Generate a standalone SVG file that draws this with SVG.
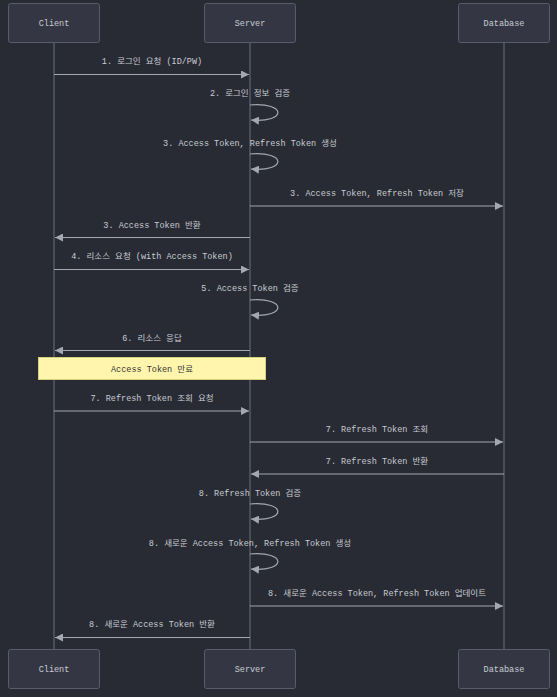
<svg xmlns="http://www.w3.org/2000/svg" width="557" height="697" viewBox="0 0 557 697">
<defs>
<style>
.bg{fill:#282b34}
.actor rect{fill:#343743;stroke:#585c6b;stroke-width:1}
.actor text{fill:#c9ccd3;font-family:"Liberation Mono","Noto Sans CJK KR",monospace;font-size:8.5px;text-anchor:middle}
.life{stroke:#5b5f6e;stroke-width:1.3}
.msg{stroke:#a4a8b3;stroke-width:1.2;fill:none}
.lbl{fill:#c9ccd3;font-family:"Liberation Mono","Noto Sans CJK KR",monospace;font-size:8.5px;text-anchor:middle}
.note rect{fill:#fff5ad;stroke:#d8cf7a;stroke-width:1}
.note text{fill:#333333;font-family:"Liberation Mono","Noto Sans CJK KR",monospace;font-size:8.5px;text-anchor:middle}
</style>
<marker id="ah" viewBox="0 0 10 10" refX="10" refY="5" markerWidth="8" markerHeight="8" markerUnits="userSpaceOnUse" orient="auto">
<path d="M0,0 L10,5 L0,10 z" fill="#a4a8b3"/>
</marker>
</defs>
<rect class="bg" x="0" y="0" width="557" height="697"/>
<g id="lifelines">
<line class="life" x1="54" y1="43" x2="54" y2="649"/>
<line class="life" x1="250" y1="43" x2="250" y2="649"/>
<line class="life" x1="504" y1="43" x2="504" y2="649"/>
</g>
<g id="client-top" class="actor"><rect x="8.5" y="3.5" width="91" height="39" rx="2"/><text x="54" y="26">Client</text></g>
<g id="server-top" class="actor"><rect x="204.5" y="3.5" width="91" height="39" rx="2"/><text x="250" y="26">Server</text></g>
<g id="database-top" class="actor"><rect x="458.5" y="3.5" width="91" height="39" rx="2"/><text x="504" y="26">Database</text></g>
<g id="client-bottom" class="actor"><rect x="8.5" y="649.5" width="91" height="39" rx="2"/><text x="54" y="672">Client</text></g>
<g id="server-bottom" class="actor"><rect x="204.5" y="649.5" width="91" height="39" rx="2"/><text x="250" y="672">Server</text></g>
<g id="database-bottom" class="actor"><rect x="458.5" y="649.5" width="91" height="39" rx="2"/><text x="504" y="672">Database</text></g>
<g id="note"  class="note"><rect x="38.5" y="357.5" width="227" height="22"/><text x="152" y="372">Access Token 만료</text></g>
<g id="connectors">
<line class="msg" x1="54" y1="74.5" x2="249" y2="74.5" marker-end="url(#ah)"/>
<path class="msg" d="M250,105 C287,102 287,123 251,120" marker-end="url(#ah)"/>
<path class="msg" d="M250,154 C287,151 287,172 251,169" marker-end="url(#ah)"/>
<line class="msg" x1="250" y1="206" x2="503" y2="206" marker-end="url(#ah)"/>
<line class="msg" x1="250" y1="237.5" x2="55" y2="237.5" marker-end="url(#ah)"/>
<line class="msg" x1="54" y1="269.5" x2="249" y2="269.5" marker-end="url(#ah)"/>
<path class="msg" d="M250,300 C287,297 287,318 251,315" marker-end="url(#ah)"/>
<line class="msg" x1="250" y1="350.5" x2="55" y2="350.5" marker-end="url(#ah)"/>
<line class="msg" x1="54" y1="411" x2="249" y2="411" marker-end="url(#ah)"/>
<line class="msg" x1="250" y1="442" x2="503" y2="442" marker-end="url(#ah)"/>
<line class="msg" x1="504" y1="474" x2="251" y2="474" marker-end="url(#ah)"/>
<path class="msg" d="M250,504 C287,501 287,522 251,519" marker-end="url(#ah)"/>
<path class="msg" d="M250,554 C287,551 287,572 251,569" marker-end="url(#ah)"/>
<line class="msg" x1="250" y1="606" x2="503" y2="606" marker-end="url(#ah)"/>
<line class="msg" x1="250" y1="637.5" x2="55" y2="637.5" marker-end="url(#ah)"/>
</g>
<g id="labels">
<text class="lbl" x="152" y="64">1. 로그인 요청 (ID/PW)</text>
<text class="lbl" x="250" y="95.5">2. 로그인 정보 검증</text>
<text class="lbl" x="250" y="145.5">3. Access Token, Refresh Token 생성</text>
<text class="lbl" x="377" y="195.5">3. Access Token, Refresh Token 저장</text>
<text class="lbl" x="152" y="228">3. Access Token 반환</text>
<text class="lbl" x="152" y="259">4. 리소스 요청 (with Access Token)</text>
<text class="lbl" x="250" y="290.5">5. Access Token 검증</text>
<text class="lbl" x="152" y="340.5">6. 리소스 응답</text>
<text class="lbl" x="152" y="400.5">7. Refresh Token 조회 요청</text>
<text class="lbl" x="377" y="431.5">7. Refresh Token 조회</text>
<text class="lbl" x="377" y="463.5">7. Refresh Token 반환</text>
<text class="lbl" x="250" y="495.5">8. Refresh Token 검증</text>
<text class="lbl" x="250" y="546">8. 새로운 Access Token, Refresh Token 생성</text>
<text class="lbl" x="377" y="595.5">8. 새로운 Access Token, Refresh Token 업데이트</text>
<text class="lbl" x="152" y="627">8. 새로운 Access Token 반환</text>
</g>
</svg>
